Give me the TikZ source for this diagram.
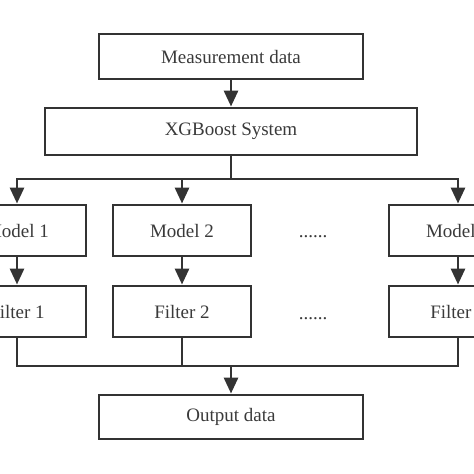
\documentclass[tikz,border=0pt]{standalone}
\usepackage{fontspec}
\setmainfont{Liberation Serif}
\usetikzlibrary{arrows.meta}
\definecolor{linegray}{HTML}{333333}
\definecolor{textgray}{HTML}{3A3A3A}
\tikzset{
  box/.style={draw=linegray,line width=2.9pt,rectangle,inner sep=0pt,
    text=textgray,font=\fontsize{19}{22}\selectfont,anchor=center},
  flow/.style={draw=linegray,line width=2.9pt,
    -{Triangle[length=16pt,width=14pt]}},
  link/.style={draw=linegray,line width=2.9pt}
}
\begin{document}
\begin{tikzpicture}[x=1pt,y=-1pt]
        \useasboundingbox (0,0) rectangle (474,474);
        \clip (0,0) rectangle (474,474);
        %% Top
        \node[box,minimum width=264pt,minimum height=45pt] (meas) at (231,56.5) {Measurement data};
        \node[box,minimum width=372pt,minimum height=47pt] (xgb) at (231,131.5) {XGBoost System};
        \coordinate (split) at (231,179);
        \draw[flow] (meas.south) -- (xgb.north);
        \draw[link] (xgb.south) -- (split);
        %% Models and filters
        \foreach \x/\n in {17/1,182/2,458/n} {
            \node[box,minimum width=138pt,minimum height=51pt] (model\n) at (\x,230.5) {Model \n};
            \node[box,minimum width=138pt,minimum height=51pt] (filter\n) at (\x,311.5) {Filter \n};
            \draw[flow] (split) -| (model\n.north);
            \draw[flow] (model\n.south) -- (filter\n.north);
        }
        \node[text=textgray,font=\fontsize{19}{22}\selectfont] (dotsm) at (313,237) {......};
        \node[text=textgray,font=\fontsize{19}{22}\selectfont] (dotsf) at (313,319) {......};
        %% Bottom
        \coordinate (join) at (231,366);
        \node[box,minimum width=264pt,minimum height=44pt] (out) at (231,417) {Output data};
        \foreach \n in {1,2,n}
            \draw[link] (filter\n.south) |- (join);
        \draw[flow] (join) -- (out.north);
    \end{tikzpicture}
\end{document}
